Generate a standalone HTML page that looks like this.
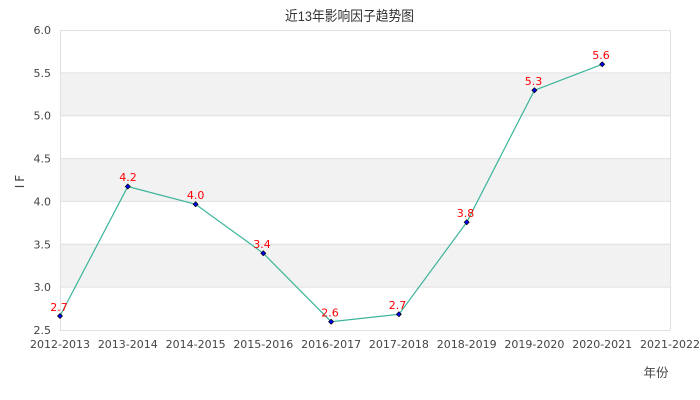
<!DOCTYPE html>
<html>
<head>
<meta charset="utf-8">
<style>
html,body{margin:0;padding:0;background:#fff;}
svg{display:block;}
text{font-family:"DejaVu Sans","Liberation Sans","Noto Sans CJK SC",sans-serif;}
</style>
</head>
<body>
<svg width="700" height="400" viewBox="0 0 700 400" xmlns="http://www.w3.org/2000/svg">
  <rect x="0" y="0" width="700" height="400" fill="#fff"/>
  <!-- title -->
  <text x="349.5" y="21" text-anchor="middle" font-size="14" fill="#333" textLength="129" lengthAdjust="spacingAndGlyphs" style="font-family:'Liberation Sans','Noto Sans CJK SC',sans-serif;">近13年影响因子趋势图</text>

  <!-- shaded bands -->
  <rect x="60" y="72.86" width="610" height="42.86" fill="#f2f2f2"/>
  <rect x="60" y="158.57" width="610" height="42.86" fill="#f2f2f2"/>
  <rect x="60" y="244.29" width="610" height="42.86" fill="#f2f2f2"/>

  <!-- gridlines -->
  <g stroke="#e0e0e0" stroke-width="1">
    <line x1="60" y1="30.5" x2="670" y2="30.5"/>
    <line x1="60" y1="72.86" x2="670" y2="72.86"/>
    <line x1="60" y1="115.71" x2="670" y2="115.71"/>
    <line x1="60" y1="158.57" x2="670" y2="158.57"/>
    <line x1="60" y1="201.43" x2="670" y2="201.43"/>
    <line x1="60" y1="244.29" x2="670" y2="244.29"/>
    <line x1="60" y1="287.14" x2="670" y2="287.14"/>
    <line x1="60" y1="330.5" x2="670" y2="330.5"/>
    <line x1="60.5" y1="30" x2="60.5" y2="330"/>
    <line x1="670.5" y1="30" x2="670.5" y2="330"/>
  </g>

  <!-- y tick labels -->
  <g font-size="11" fill="#444" text-anchor="end">
    <text x="51" y="34">6.0</text>
    <text x="51" y="76.9">5.5</text>
    <text x="51" y="119.7">5.0</text>
    <text x="51" y="162.6">4.5</text>
    <text x="51" y="205.4">4.0</text>
    <text x="51" y="248.3">3.5</text>
    <text x="51" y="291.1">3.0</text>
    <text x="51" y="334">2.5</text>
  </g>

  <!-- y axis title -->
  <text x="20" y="184" font-size="12" fill="#444" text-anchor="middle" letter-spacing="3" transform="rotate(-90 20 180)">IF</text>

  <!-- x tick labels -->
  <g font-size="11" fill="#444" text-anchor="middle">
    <text x="60" y="348">2012-2013</text>
    <text x="127.8" y="348">2013-2014</text>
    <text x="195.6" y="348">2014-2015</text>
    <text x="263.3" y="348">2015-2016</text>
    <text x="331.1" y="348">2016-2017</text>
    <text x="398.9" y="348">2017-2018</text>
    <text x="466.7" y="348">2018-2019</text>
    <text x="534.4" y="348">2019-2020</text>
    <text x="602.2" y="348">2020-2021</text>
    <text x="670" y="348">2021-2022</text>
  </g>

  <!-- x axis title -->
  <text x="656" y="377" font-size="12.5" fill="#444" text-anchor="middle" style="font-family:'Liberation Sans','Noto Sans CJK SC',sans-serif;">年份</text>

  <!-- series line -->
  <polyline fill="none" stroke="#3bb49a" stroke-width="1.2"
    points="60,316 127.8,186.5 195.6,204.3 263.3,253.3 331.1,321.7 398.9,314.3 466.7,222.3 534.4,90.3 602.2,64.3"/>

  <!-- markers -->
  <g fill="#0000ff" stroke="#000" stroke-width="0.7">
    <path d="M60,313.5 L62.5,316 L60,318.5 L57.5,316 Z"/>
    <path d="M127.8,184 L130.3,186.5 L127.8,189 L125.3,186.5 Z"/>
    <path d="M195.6,201.8 L198.1,204.3 L195.6,206.8 L193.1,204.3 Z"/>
    <path d="M263.3,250.8 L265.8,253.3 L263.3,255.8 L260.8,253.3 Z"/>
    <path d="M331.1,319.2 L333.6,321.7 L331.1,324.2 L328.6,321.7 Z"/>
    <path d="M398.9,311.8 L401.4,314.3 L398.9,316.8 L396.4,314.3 Z"/>
    <path d="M466.7,219.8 L469.2,222.3 L466.7,224.8 L464.2,222.3 Z"/>
    <path d="M534.4,87.8 L536.9,90.3 L534.4,92.8 L531.9,90.3 Z"/>
    <path d="M602.2,61.8 L604.7,64.3 L602.2,66.8 L599.7,64.3 Z"/>
  </g>

  <!-- data labels -->
  <g font-size="11" fill="#ff0000" text-anchor="middle">
    <text x="59" y="311">2.7</text>
    <text x="128" y="181">4.2</text>
    <text x="195.6" y="199">4.0</text>
    <text x="262" y="248">3.4</text>
    <text x="330" y="316.5">2.6</text>
    <text x="397.5" y="309">2.7</text>
    <text x="465.5" y="217">3.8</text>
    <text x="533.5" y="85">5.3</text>
    <text x="601" y="59">5.6</text>
  </g>
</svg>
</body>
</html>
